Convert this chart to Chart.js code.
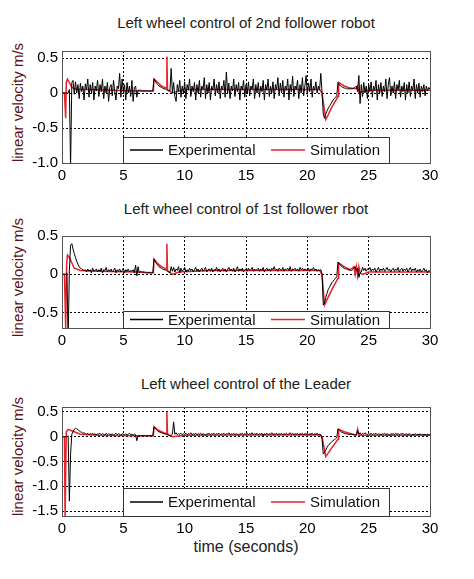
<!DOCTYPE html>
<html>
<head>
<meta charset="utf-8">
<script src="https://cdn.jsdelivr.net/npm/chart.js@4.4.1/dist/chart.umd.min.js"></script>
<style>
  body { margin: 0; background: #fff; }
  #fig { position: relative; width: 474px; height: 579px; font-family: "Liberation Sans", Arial, sans-serif; }
  canvas { position: absolute; left: 0; }
  .title { position: absolute; left: 62px; width: 368px; text-align: center; font-size: 15px; color: #222; }
  .ylab { position: absolute; font-size: 15px; color: #5a1414; transform: rotate(-90deg); transform-origin: center; white-space: nowrap; width: 160px; text-align: center; }
</style>
</head>
<body>
<div id="fig">
  <div class="title" style="top:14px">Left wheel control of 2nd follower robot</div>
  <div class="title" style="top:200px">Left wheel control of 1st follower rbot</div>
  <div class="title" style="top:375px">Left wheel control of the Leader</div>
  <div class="ylab" style="left:-63px; top:94px">linear velocity m/s</div>
  <div class="ylab" style="left:-63px; top:269px">linear velocity m/s</div>
  <div class="ylab" style="left:-63px; top:448px">linear velocity m/s</div>
  <div class="title" style="top:538px; font-size:16px">time (seconds)</div>
  <canvas id="c1" width="474" height="150" style="top:38px"></canvas>
  <canvas id="c2" width="474" height="130" style="top:223px"></canvas>
  <canvas id="c3" width="474" height="147" style="top:394px"></canvas>
</div>
<script>
// time axis: experimental samples every 0.1 s from 0 to 30 s
const sampleStep = 0.1;
const xTicks = [0, 5, 10, 15, 20, 25, 30];

// ---- 2nd follower robot
const yTicks1 = [-1, -0.5, 0, 0.5];
const exp1 = [0,0,0,0,0,0,.05,-1.05,.15,
  .18,-.02,.16,.0,.12,-.08,.14,.02,.1,-.1,.13,
  .05,.2,-.06,.12,.0,.15,-.1,.1,.03,.18,
  -.05,.12,.02,.2,-.08,.1,.0,.15,-.12,.08,
  .12,-.04,.18,.02,-.1,.1,.06,.28,-.06,.2,
  .02,.12,-.1,.15,.0,.1,-.05,.18,-.12,.08,
  .1,-.06,.04,.04,.04,.03,.03,.03,.03,.03,
  .03,.03,.03,.03,.03,.2,.17,.14,.12,.1,
  .09,.08,.07,.06,.06,.05,.04,.03,.03,.35,
  .0,.15,-.05,-.12,.12,.02,.18,-.06,.1,.0,
  .16,-.08,.12,.04,.2,-.05,.1,.02,.15,-.1,
  .12,.0,.18,-.06,.1,.05,.22,-.08,.12,.0,
  .15,-.1,.1,.04,.2,-.04,.12,.0,.16,-.08,
  .1,.05,.18,-.06,.3,.0,.14,-.08,.1,.03,
  .2,-.05,.12,.02,.15,-.1,.1,.04,.18,-.06,
  .12,.0,.16,-.04,.1,.05,.2,-.08,.12,.0,
  .15,-.06,.1,.02,.18,-.1,.12,.04,.2,-.05,
  .1,.0,.16,-.08,.12,.05,.22,-.04,.14,.0,
  .18,-.06,.1,.04,.2,-.1,.12,.02,.24,-.05,
  .1,.05,.18,-.08,.12,.0,.22,-.04,.1,.25,
  -.02,.14,.02,.2,-.06,.1,.04,.16,.0,.1,
  .05,.28,.0,-.3,-.36,-.3,-.26,-.22,-.19,-.16,
  -.13,-.1,-.08,-.06,-.04,.15,.12,.1,.09,.08,
  .07,.07,.06,.06,.06,.06,.06,.06,.07,.08,
  .1,.02,.25,-.15,.12,-.05,.15,.0,.1,-.08,
  .12,.02,.16,-.06,.1,.04,.18,-.1,.12,.0,
  .15,-.05,.1,.02,.2,-.08,.12,.22,-.04,.1,
  .0,.16,-.08,.12,.04,.18,-.06,.1,.02,.15,
  -.1,.12,.0,.16,-.05,.1,.04,.2,-.08,.12,
  .0,.14,-.06,.1,.02,.12,-.04,.1,.03,.08,
  .05];
const sim1T = [0,0.2,0.3,0.35,0.45,0.6,0.8,1.2,2,4,6,7.45,7.5,7.8,8.1,8.5,8.55,8.6,9,9.5,10,15,21,21.2,21.5,21.6,22,22.5,22.55,23,23.5,24,24.1,24.2,24.5,25,30];
const sim1V = [0,0,-0.36,0.15,0.2,0.15,0.08,0.05,0.05,0.04,0.03,0.03,0.2,0.15,0.1,0.07,0.52,0.05,0,0.03,0.05,0.05,0.05,0,-0.38,-0.35,-0.2,-0.05,0.15,0.1,0.07,0.06,0.1,0,0.02,0.04,0.04];

// ---- 1st follower robot
const yTicks2 = [-0.5, 0, 0.5];
const exp2 = [0,0,0,0,.02,-.85,.05,.38,.4,.33,
  .27,.22,.17,.13,.1,.08,.07,.06,.05,.06,
  .03,.07,.04,.06,.02,.08,.04,.05,.07,.03,
  .06,.04,.08,.02,.06,.05,.09,.03,.06,.04,
  .07,.03,.05,.08,.02,.06,.04,.07,.03,.05,
  .08,.02,.06,.04,.07,.03,.05,.04,.06,.02,
  .12,-.02,.1,.02,.04,.03,.03,.03,.02,.02,
  .02,.02,.02,.02,.02,.2,.17,.14,.12,.1,
  .09,.08,.07,.06,.06,.05,.04,.03,.02,.1,
  .04,.09,.03,.07,.05,.1,.02,.08,.04,.06,
  .09,.03,.06,.04,.08,.05,.07,.03,.06,.09,
  .04,.07,.03,.06,.08,.04,.06,.09,.03,.06,
  .07,.04,.08,.03,.06,.05,.09,.04,.07,.03,
  .06,.08,.04,.07,.03,.06,.09,.05,.07,.04,
  .08,.03,.06,.1,.04,.07,.05,.08,.03,.06,
  .07,.04,.08,.05,.06,.09,.04,.07,.05,.06,
  .08,.04,.07,.05,.09,.03,.06,.08,.05,.07,
  .04,.08,.06,.1,.05,.07,.04,.08,.06,.05,
  .09,.04,.07,.06,.08,.05,.1,.04,.07,.06,
  .08,.05,.07,.04,.09,.06,.08,.05,.07,.06,
  .05,.08,.04,.07,.06,.09,.05,.07,.04,.06,
  .05,.06,.0,-.4,-.38,-.3,-.25,-.2,-.17,-.14,
  -.11,-.09,-.07,-.05,-.03,.16,.14,.12,.1,.09,
  .08,.07,.07,.06,.06,.05,.05,.06,.08,.1,
  .05,.08,-.04,.02,.03,.09,.05,.08,.04,.07,
  .06,.09,.04,.07,.05,.08,.03,.06,.09,.04,
  .07,.05,.08,.04,.06,.09,.05,.07,.03,.06,
  .08,.04,.07,.05,.09,.03,.06,.08,.04,.07,
  .05,.08,.03,.06,.09,.04,.07,.05,.08,.03,
  .06,.04,.07,.03,.05,.08,.04,.06,.02,.05,
  .04];
const sim2T = [0,0.2,0.3,0.38,0.45,0.6,1,1.5,3,6,7.45,7.5,7.8,8.1,8.5,8.55,8.6,9,9.5,12,21,21.2,21.4,21.6,22,22.5,22.55,23,23.5,23.8,23.9,24,24.1,24.2,24.3,24.5,25,30];
const sim2V = [0,0,-0.7,0.15,0.25,0.22,0.08,0.05,0.04,0.03,0.02,0.2,0.14,0.1,0.07,0.4,0.05,0,0.03,0.05,0.05,0,-0.4,-0.33,-0.2,-0.05,0.15,0.1,0.06,0.1,0,0.1,-0.02,0.1,0.02,0,0.03,0.03];

// ---- Leader
const yTicks3 = [-1.5, -1, -0.5, 0, 0.5];
const exp3 = [0,0,0,0,0,.02,-1.3,-.35,.05,.1,
  .15,.17,.16,.14,.12,.1,.09,.07,.08,.06,
  .05,.07,.04,.06,.05,.07,.04,.06,.03,.06,
  .05,.07,.04,.06,.05,.03,.07,.04,.06,.05,
  .04,.06,.03,.05,.07,.04,.06,.05,.03,.06,
  .05,.04,.06,.03,.05,.07,.04,.05,.03,.05,
  .04,-.08,.02,.02,.02,.02,.02,.02,.02,.02,
  .02,.02,.02,.02,.02,.2,.17,.14,.12,.1,
  .09,.08,.07,.06,.06,.05,.04,.03,.02,.03,
  .05,.3,.05,.08,.04,.06,.05,.07,.04,.06,
  .05,.07,.04,.06,.05,.08,.04,.06,.05,.07,
  .04,.06,.05,.07,.04,.06,.05,.03,.06,.05,
  .07,.04,.06,.05,.07,.04,.06,.05,.07,.04,
  .06,.05,.07,.04,.06,.05,.08,.04,.06,.05,
  .07,.04,.06,.05,.03,.06,.05,.07,.04,.06,
  .05,.07,.04,.06,.05,.08,.04,.06,.05,.07,
  .04,.06,.05,.07,.02,.06,.05,.07,.04,.06,
  .05,.08,.04,.06,.05,.07,.04,.06,.05,.07,
  .04,.06,.05,.07,.04,.06,.08,.05,.07,.04,
  .06,.05,.07,.04,.06,.05,.07,.04,.06,.05,
  .07,.04,.06,.05,.07,.04,.06,.05,.07,.04,
  .05,.04,-.05,-.35,-.32,-.27,-.22,-.18,-.15,-.12,
  -.1,-.08,-.06,-.04,-.02,.16,.13,.11,.09,.08,
  .07,.06,.06,.05,.05,.05,.05,.04,.04,.04,
  .04,.12,.05,.08,.04,.07,.05,.08,.06,.04,
  .06,.05,.07,.04,.06,.05,.07,.04,.06,.05,
  .04,.06,.05,.07,.04,.06,.05,.03,.06,.05,
  .06,.04,.07,.05,.06,.04,.06,.05,.07,.04,
  .05,.06,.04,.06,.05,.03,.05,.04,.06,.04,
  .05,.04,.06,.03,.05,.04,.05,.03,.05,.04,
  .04];
const sim3T = [0,0.2,0.25,0.35,0.5,1,1.5,3,6,7.45,7.5,7.8,8.1,8.5,8.55,8.6,9,10,21,21.2,21.5,21.7,22,22.5,22.55,23,24,24.1,24.2,25,30];
const sim3V = [0,0,-1.65,0.1,0.15,0.1,0.05,0.03,0.02,0.02,0.2,0.14,0.1,0.06,0.5,0.05,0,0.03,0.04,0,-0.4,-0.33,-0.22,-0.05,0.15,0.1,0.03,0.15,0.03,0.03,0.03];

function samples(vals) {
  return vals.map((v, i) => ({ x: +(i * sampleStep).toFixed(2), y: v }));
}
function pairs(ts, vs) {
  return ts.map((t, i) => ({ x: t, y: vs[i] }));
}

// legend box drawn inside the bottom of the axes, like MATLAB's
const boxLegend = {
  id: "boxLegend",
  afterDraw(chart, args, opts) {
    const a = chart.chartArea, ctx = chart.ctx;
    const x0 = a.left + 61, x1 = a.left + 327, y1 = a.bottom, y0 = a.bottom - opts.h;
    const cy = (y0 + y1) / 2;
    ctx.save();
    ctx.fillStyle = "#fff";
    ctx.fillRect(x0, y0, x1 - x0, y1 - y0);
    ctx.strokeStyle = "#333";
    ctx.lineWidth = 1;
    ctx.strokeRect(x0 + 0.5, y0 + 0.5, x1 - x0, y1 - y0);
    ctx.lineWidth = 1.6;
    ctx.strokeStyle = "#000";
    ctx.beginPath(); ctx.moveTo(x0 + 7, cy); ctx.lineTo(x0 + 40, cy); ctx.stroke();
    ctx.strokeStyle = "#e8202a";
    ctx.beginPath(); ctx.moveTo(x0 + 148, cy); ctx.lineTo(x0 + 182, cy); ctx.stroke();
    ctx.fillStyle = "#111";
    ctx.font = "15px 'Liberation Sans', Arial, sans-serif";
    ctx.textBaseline = "middle";
    ctx.fillText("Experimental", x0 + 45, cy + 1);
    ctx.fillText("Simulation", x0 + 187, cy + 1);
    ctx.restore();
  }
};

// solid axes box on top of the dotted grid
const frame = {
  id: "frame",
  afterDatasetsDraw(chart) {
    const a = chart.chartArea, ctx = chart.ctx;
    ctx.save();
    ctx.strokeStyle = "#555";
    ctx.lineWidth = 1;
    ctx.strokeRect(Math.round(a.left) + 0.5, Math.round(a.top) + 0.5, Math.round(a.width), Math.round(a.height));
    ctx.restore();
  }
};

function makeChart(id, expVals, simT, simV, yMin, yMax, yTicks, legendH) {
  const xGrid = c => (c.tick && (c.tick.value === 0 || c.tick.value === 30)) ? "rgba(0,0,0,0)" : "#000";
  const yGrid = c => (c.tick && (c.tick.value === yMin || c.tick.value === yMax)) ? "rgba(0,0,0,0)" : "#000";
  new Chart(document.getElementById(id), {
    type: "line",
    data: {
      datasets: [
        { label: "Experimental", data: samples(expVals), borderColor: "#000", borderWidth: 1, pointRadius: 0, tension: 0 },
        { label: "Simulation", data: pairs(simT, simV), borderColor: "#e8202a", borderWidth: 1.5, pointRadius: 0, tension: 0 }
      ]
    },
    options: {
      responsive: false,
      animation: false,
      events: [],
      layout: { padding: { top: 5, right: 44, left: 0, bottom: 0 } },
      plugins: { legend: { display: false }, tooltip: { enabled: false }, boxLegend: { h: legendH } },
      scales: {
        x: {
          type: "linear", min: 0, max: 30,
          afterBuildTicks: s => { s.ticks = xTicks.map(v => ({ value: v })); },
          afterFit: s => { s.height = 25; },
          ticks: { color: "#000", font: { size: 15, family: "'Liberation Sans', Arial" }, maxRotation: 0, padding: 4 },
          grid: { color: xGrid, lineWidth: 1, drawTicks: false },
          border: { display: false, dash: [2, 2] }
        },
        y: {
          min: yMin, max: yMax,
          afterBuildTicks: s => { s.ticks = yTicks.map(v => ({ value: v })); },
          afterFit: s => { s.width = 62; },
          ticks: { color: "#000", font: { size: 15, family: "'Liberation Sans', Arial" }, padding: 4 },
          grid: { color: yGrid, lineWidth: 1, drawTicks: false },
          border: { display: false, dash: [2, 2] }
        }
      }
    },
    plugins: [frame, boxLegend]
  });
}

makeChart("c1", exp1, sim1T, sim1V, -1, 0.6, yTicks1, 26);
makeChart("c2", exp2, sim2T, sim2V, -0.7, 0.5, yTicks2, 17);
makeChart("c3", exp3, sim3T, sim3V, -1.6, 0.6, yTicks3, 28);
</script>
</body>
</html>
